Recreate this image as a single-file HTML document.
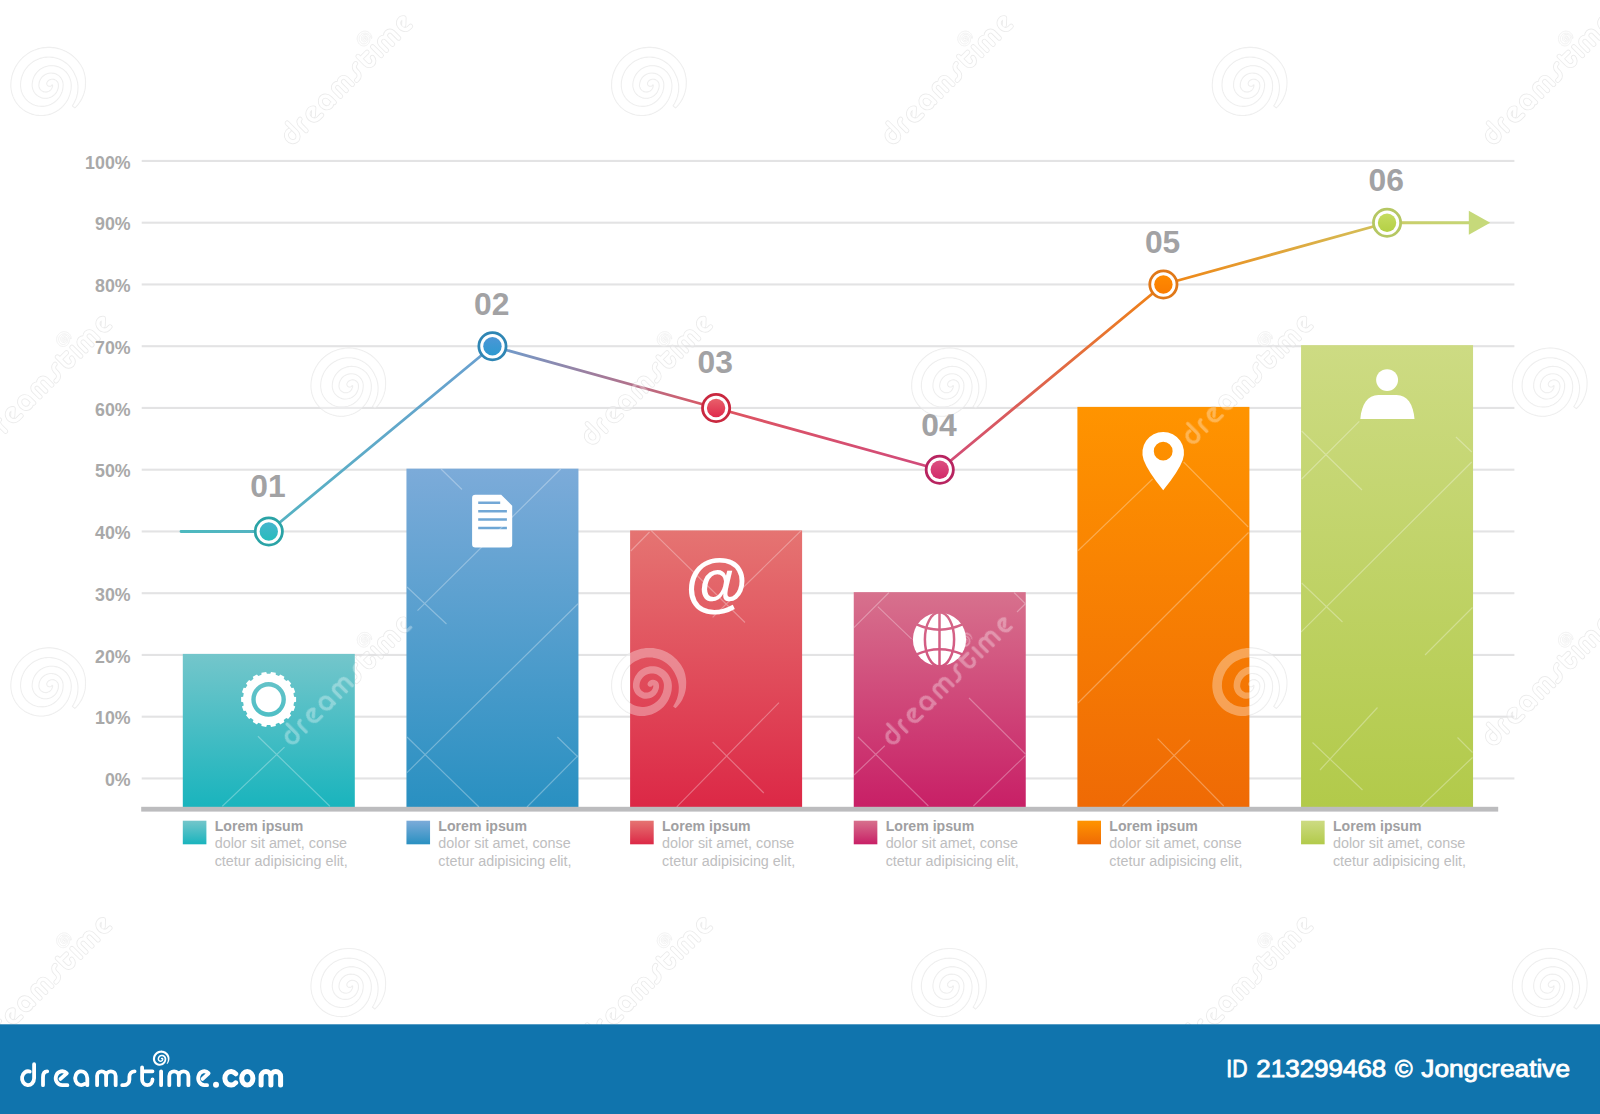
<!DOCTYPE html>
<html><head><meta charset="utf-8"><title>Bar chart infographic</title>
<style>html,body{margin:0;padding:0;background:#fff;}body{width:1600px;height:1114px;overflow:hidden;font-family:"Liberation Sans",sans-serif;}svg{display:block;}text{font-family:"Liberation Sans",sans-serif;}</style></head><body>
<svg width="1600" height="1114" viewBox="0 0 1600 1114">
<defs>
<linearGradient id="b0" x1="0" y1="0" x2="0" y2="1"><stop offset="0" stop-color="#74c6cb"/><stop offset="1" stop-color="#19b4bd"/></linearGradient>
<linearGradient id="b1" x1="0" y1="0" x2="0" y2="1"><stop offset="0" stop-color="#7cabd9"/><stop offset="1" stop-color="#2990c1"/></linearGradient>
<linearGradient id="b2" x1="0" y1="0" x2="0" y2="1"><stop offset="0" stop-color="#e57472"/><stop offset="1" stop-color="#dc2846"/></linearGradient>
<linearGradient id="b3" x1="0" y1="0" x2="0" y2="1"><stop offset="0" stop-color="#d7718d"/><stop offset="1" stop-color="#c81f66"/></linearGradient>
<linearGradient id="b4" x1="0" y1="0" x2="0" y2="1"><stop offset="0" stop-color="#ff9400"/><stop offset="1" stop-color="#ef6a05"/></linearGradient>
<linearGradient id="b5" x1="0" y1="0" x2="0" y2="1"><stop offset="0" stop-color="#cddb83"/><stop offset="1" stop-color="#b2ca4a"/></linearGradient>
<linearGradient id="d0" x1="0" y1="0" x2="0" y2="1"><stop offset="0" stop-color="#45b5cd"/><stop offset="1" stop-color="#27bcbc"/></linearGradient>
<linearGradient id="d1" x1="0" y1="0" x2="0" y2="1"><stop offset="0" stop-color="#4b96d6"/><stop offset="1" stop-color="#2d9ad0"/></linearGradient>
<linearGradient id="d2" x1="0" y1="0" x2="0" y2="1"><stop offset="0" stop-color="#e8606a"/><stop offset="1" stop-color="#e02a4c"/></linearGradient>
<linearGradient id="d3" x1="0" y1="0" x2="0" y2="1"><stop offset="0" stop-color="#dc5080"/><stop offset="1" stop-color="#d22a6a"/></linearGradient>
<linearGradient id="d4" x1="0" y1="0" x2="0" y2="1"><stop offset="0" stop-color="#ff8a00"/><stop offset="1" stop-color="#fa7c00"/></linearGradient>
<linearGradient id="d5" x1="0" y1="0" x2="0" y2="1"><stop offset="0" stop-color="#c5dc60"/><stop offset="1" stop-color="#b4d045"/></linearGradient>
<linearGradient id="lg" gradientUnits="userSpaceOnUse" x1="181" y1="0" x2="1490" y2="0"><stop offset="0.0000" stop-color="#4db9bf"/><stop offset="0.0671" stop-color="#55b3c2"/><stop offset="0.2379" stop-color="#6a9fd0"/><stop offset="0.4088" stop-color="#de5560"/><stop offset="0.5796" stop-color="#d04a7c"/><stop offset="0.7505" stop-color="#f08414"/><stop offset="0.9214" stop-color="#d2c25c"/><stop offset="0.9366" stop-color="#c9cf6c"/><stop offset="1.0000" stop-color="#c4d878"/></linearGradient>
<path id="sp" d="M26.1,22.6 L27.7,21.1 L29.2,19.4 L30.6,17.6 L31.8,15.7 L33.0,13.7 L33.9,11.6 L34.8,9.5 L35.5,7.2 L36.1,5.0 L36.5,2.7 L36.7,0.3 L36.8,-2.1 L36.8,-4.4 L36.6,-6.8 L36.2,-9.2 L35.7,-11.6 L35.0,-13.9 L34.2,-16.2 L33.1,-18.3 L31.8,-20.4 L30.4,-22.4 L28.9,-24.3 L27.3,-26.1 L25.6,-27.8 L23.7,-29.4 L21.8,-30.9 L19.8,-32.2 L17.7,-33.4 L15.5,-34.5 L13.2,-35.4 L10.9,-36.2 L8.6,-36.8 L6.2,-37.3 L3.8,-37.6 L1.4,-37.8 L-1.1,-37.8 L-3.5,-37.6 L-5.9,-37.3 L-8.3,-36.9 L-10.6,-36.3 L-12.9,-35.5 L-15.2,-34.6 L-17.4,-33.6 L-19.5,-32.4 L-21.5,-31.1 L-23.5,-29.6 L-25.4,-28.0 L-27.1,-26.4 L-28.7,-24.6 L-30.3,-22.7 L-31.6,-20.7 L-32.9,-18.6 L-34.0,-16.4 L-35.0,-14.2 L-35.9,-11.9 L-36.6,-9.6 L-37.1,-7.2 L-37.5,-4.8 L-37.7,-2.4 L-37.8,0.0 L-37.7,2.4 L-37.4,4.8 L-37.0,7.1 L-36.3,9.4 L-35.5,11.7 L-34.5,13.9 L-33.3,16.0 L-32.0,18.0 L-30.5,19.8 L-28.9,21.6 L-27.1,23.2 L-25.2,24.7 L-23.2,26.0 L-21.1,27.1 L-18.9,28.1 L-16.6,28.9 L-14.3,29.5 L-12.0,30.0 L-9.6,30.2 L-7.3,30.3 L-4.9,30.2 L-2.5,29.8 L-0.2,29.4 L2.1,28.7 L4.3,27.8 L6.4,26.8 L8.5,25.6 L10.4,24.3 L12.3,22.8 L14.0,21.2 L15.5,19.5 L17.0,17.6 L18.3,15.6 L19.4,13.6 L20.3,11.4 L21.1,9.2 L21.7,7.0 L22.2,4.7 L22.4,2.3 L22.5,-0.0 L22.3,-2.1 L22.0,-4.1 L21.4,-6.1 L20.7,-8.0 L19.7,-9.9 L18.6,-11.6 L17.3,-13.2 L15.8,-14.6 L14.2,-15.9 L12.4,-17.0 L10.6,-17.9 L8.7,-18.6 L6.7,-19.1 L4.7,-19.4 L2.7,-19.5 L0.6,-19.4 L-1.4,-19.0 L-3.3,-18.5 L-5.2,-17.7 L-7.0,-16.8 L-8.7,-15.7 L-10.3,-14.4 L-11.7,-12.9 L-12.9,-11.3 L-14.0,-9.6 L-14.9,-7.8 L-15.6,-5.9 L-16.1,-4.0 L-16.4,-2.0 L-16.5,-0.0 L-16.4,1.7 L-16.0,3.4 L-15.4,5.1 L-14.7,6.6 L-13.7,8.0 L-12.5,9.3 L-11.2,10.4 L-9.8,11.4 L-8.2,12.1 L-6.6,12.7 L-4.9,13.0 L-3.2,13.1 L-1.5,12.9 L0.2,12.6 L1.8,12.0 L3.3,11.3 L4.7,10.3 L6.0,9.2 L7.1,7.9 L8.0,6.5 L8.7,4.9 L9.3,3.3 L9.6,1.7 L9.7,0.0 L9.5,-1.3 L9.1,-2.6 L8.4,-3.7 L7.5,-4.6 L6.4,-5.3 L5.2,-5.8 L3.9,-6.0 L2.6,-5.9 L1.3,-5.5 L0.2,-4.9 L-0.8,-4.0 L-1.4,-3.2 L-1.8,-2.3 L-1.9,-1.2 L-1.5,-0.2 L-0.8,0.6 L0.2,1.1 L1.2,1.1 L2.3,0.8 L3.0,0.0 L3.3,-0.3 L3.4,-0.4 L3.4,-0.4 L3.5,-0.4 L3.6,-0.4 L3.7,-0.4 L3.8,-0.3 L3.8,-0.3 L3.9,-0.2 L3.9,-0.1 L3.9,-0.1 L3.9,-0.0 L3.9,0.9 L3.7,1.8 L3.3,2.7 L2.9,3.5 L2.4,4.3 L1.8,5.0 L1.1,5.6 L0.3,6.1 L-0.5,6.4 L-1.4,6.7 L-2.3,6.9 L-3.2,6.9 L-4.1,6.8 L-5.0,6.7 L-5.8,6.3 L-6.6,5.9 L-7.4,5.4 L-8.0,4.8 L-8.6,4.1 L-9.1,3.4 L-9.4,2.6 L-9.7,1.7 L-9.9,0.9 L-9.9,0.0 L-9.8,-1.3 L-9.6,-2.6 L-9.2,-3.9 L-8.7,-5.1 L-8.1,-6.2 L-7.4,-7.3 L-6.6,-8.3 L-5.6,-9.2 L-4.6,-10.0 L-3.5,-10.7 L-2.4,-11.2 L-1.1,-11.7 L0.1,-12.0 L1.4,-12.2 L2.7,-12.2 L3.9,-12.1 L5.2,-11.9 L6.4,-11.6 L7.6,-11.1 L8.7,-10.5 L9.8,-9.8 L10.7,-9.0 L11.6,-8.1 L12.4,-7.1 L13.0,-6.0 L13.6,-4.9 L14.0,-3.7 L14.3,-2.5 L14.5,-1.2 L14.5,0.0 L14.4,1.7 L14.2,3.4 L13.8,5.1 L13.4,6.7 L12.7,8.3 L12.0,9.8 L11.2,11.3 L10.2,12.7 L9.1,14.0 L8.0,15.2 L6.7,16.3 L5.4,17.3 L3.9,18.3 L2.5,19.1 L0.9,19.7 L-0.7,20.3 L-2.3,20.7 L-3.9,21.0 L-5.6,21.2 L-7.3,21.2 L-8.9,21.1 L-10.6,20.9 L-12.2,20.6 L-13.8,20.1 L-15.3,19.5 L-16.8,18.8 L-18.2,17.9 L-19.6,17.0 L-20.9,15.9 L-22.1,14.8 L-23.2,13.6 L-24.2,12.3 L-25.1,10.9 L-25.9,9.5 L-26.6,8.0 L-27.2,6.5 L-27.6,4.9 L-27.9,3.3 L-28.1,1.6 L-28.2,-0.0 L-28.1,-1.8 L-28.0,-3.6 L-27.7,-5.4 L-27.3,-7.2 L-26.8,-8.9 L-26.1,-10.6 L-25.4,-12.3 L-24.6,-13.9 L-23.6,-15.4 L-22.6,-16.9 L-21.4,-18.3 L-20.2,-19.7 L-18.9,-20.9 L-17.5,-22.1 L-16.1,-23.2 L-14.6,-24.2 L-13.0,-25.0 L-11.3,-25.8 L-9.7,-26.5 L-7.9,-27.1 L-6.2,-27.5 L-4.4,-27.9 L-2.6,-28.1 L-0.8,-28.2 L1.0,-28.2 L2.8,-28.1 L4.6,-27.8 L6.4,-27.5 L8.2,-27.0 L9.9,-26.4 L11.6,-25.7 L13.2,-24.9 L14.8,-24.0 L16.3,-23.0 L17.7,-21.9 L19.1,-20.8 L20.4,-19.5 L21.6,-18.1 L22.7,-16.7 L23.7,-15.2 L24.7,-13.7 L25.5,-12.1 L26.3,-10.4 L27.1,-8.8 L27.8,-7.0 L28.3,-5.3 L28.7,-3.5 L29.1,-1.6 L29.3,0.2 L29.4,2.1 L29.3,4.0 L29.2,6.0 L28.9,7.9 L28.5,9.8 L28.0,11.6 L27.4,13.5 L26.6,15.3 L25.8,17.1 L24.8,18.9 L23.7,20.7Z"/><path id="lt" d="M34.1,1064.2 L34.1,1078.225 A6.05,6.925000000000068 0 1,1 29.7,1071.55 M43,1085.15 L43,1077.2 Q43,1071.5 47.2,1071.3999999999999 M60.5,1078.925 L66.80,1073.33 A6.5,6.925000000000068 0 1,0 62.2,1085.15 L67.4,1085.15 M87.3,1085.15 L87.3,1078.225 A6.05,6.925000000000068 0 1,0 84.5,1084.0749999999998 M97.1,1085.15 L97.1,1075.8 A4.5,4.5 0 0,1 106.1,1075.8 L106.1,1085.15 M106.1,1076.075 A4.775000000000006,4.775000000000006 0 0,1 115.65,1076.075 L115.65,1085.15 M134.6,1071.3 A5.2,5.5 0 0,0 129.4,1076.8 L129.4,1079.65 A5.5,5.5 0 0,1 123.9,1085.15 L122.2,1085.15 M142.1,1067.4 L142.1,1079.5 A5.2,5.65 0 0,0 152.5,1079.5 M142.1,1071.3 L152.5,1071.3 M161.1,1071.3 L161.1,1085.15 M169.3,1085.15 L169.3,1076.05 A4.75,4.75 0 0,1 178.8,1076.05 L178.8,1085.15 M178.8,1076.1 A4.799999999999997,4.799999999999997 0 0,1 188.4,1076.1 L188.4,1085.15 M202.60000000000002,1078.925 L208.61,1073.33 A6.1,6.925000000000068 0 1,0 204.3,1085.15 L207.10000000000002,1085.15" fill="none" stroke-linecap="round" stroke-linejoin="round"/>
<clipPath id="cpb"><rect x="182.80" y="653.90" width="172" height="153.30"/><rect x="406.45" y="468.65" width="172" height="338.55"/><rect x="630.10" y="530.40" width="172" height="276.80"/><rect x="853.75" y="592.15" width="172" height="215.05"/><rect x="1077.40" y="406.90" width="172" height="400.30"/><rect x="1301.05" y="345.15" width="172" height="462.05"/></clipPath>
</defs>
<rect width="1600" height="1114" fill="#ffffff"/>
<g><use href="#sp" transform="translate(48.7,85.2)" fill="#fff" stroke="#ececec" stroke-width="1.1"/><use href="#sp" transform="translate(649.4,85.2)" fill="#fff" stroke="#ececec" stroke-width="1.1"/><use href="#sp" transform="translate(1250.1,85.2)" fill="#fff" stroke="#ececec" stroke-width="1.1"/><use href="#sp" transform="translate(348.8,385.9)" fill="#fff" stroke="#ececec" stroke-width="1.1"/><use href="#sp" transform="translate(949.5,385.9)" fill="#fff" stroke="#ececec" stroke-width="1.1"/><use href="#sp" transform="translate(1550.2,385.9)" fill="#fff" stroke="#ececec" stroke-width="1.1"/><use href="#sp" transform="translate(48.7,685.7)" fill="#fff" stroke="#ececec" stroke-width="1.1"/><use href="#sp" transform="translate(649.4,685.7)" fill="#fff" stroke="#ececec" stroke-width="1.1"/><use href="#sp" transform="translate(1250.1,685.7)" fill="#fff" stroke="#ececec" stroke-width="1.1"/><use href="#sp" transform="translate(348.8,986.3)" fill="#fff" stroke="#ececec" stroke-width="1.1"/><use href="#sp" transform="translate(949.5,986.3)" fill="#fff" stroke="#ececec" stroke-width="1.1"/><use href="#sp" transform="translate(1550.2,986.3)" fill="#fff" stroke="#ececec" stroke-width="1.1"/><g transform="translate(292.4,146.8) rotate(-45) scale(0.90) translate(-19.5,-1087)"><use href="#lt" stroke="#ebebeb" stroke-width="5.6"/><use href="#lt" stroke="#fff" stroke-width="3.6"/><use href="#sp" fill="#fff" stroke="#ebebeb" stroke-width="4" transform="translate(161.3,1059.0) scale(0.222)"/></g><g transform="translate(893,146.8) rotate(-45) scale(0.90) translate(-19.5,-1087)"><use href="#lt" stroke="#ebebeb" stroke-width="5.6"/><use href="#lt" stroke="#fff" stroke-width="3.6"/><use href="#sp" fill="#fff" stroke="#ebebeb" stroke-width="4" transform="translate(161.3,1059.0) scale(0.222)"/></g><g transform="translate(1493.6,146.8) rotate(-45) scale(0.90) translate(-19.5,-1087)"><use href="#lt" stroke="#ebebeb" stroke-width="5.6"/><use href="#lt" stroke="#fff" stroke-width="3.6"/><use href="#sp" fill="#fff" stroke="#ebebeb" stroke-width="4" transform="translate(161.3,1059.0) scale(0.222)"/></g><g transform="translate(-8.2,447.4) rotate(-45) scale(0.90) translate(-19.5,-1087)"><use href="#lt" stroke="#ebebeb" stroke-width="5.6"/><use href="#lt" stroke="#fff" stroke-width="3.6"/><use href="#sp" fill="#fff" stroke="#ebebeb" stroke-width="4" transform="translate(161.3,1059.0) scale(0.222)"/></g><g transform="translate(592.4,447.4) rotate(-45) scale(0.90) translate(-19.5,-1087)"><use href="#lt" stroke="#ebebeb" stroke-width="5.6"/><use href="#lt" stroke="#fff" stroke-width="3.6"/><use href="#sp" fill="#fff" stroke="#ebebeb" stroke-width="4" transform="translate(161.3,1059.0) scale(0.222)"/></g><g transform="translate(1193,447.4) rotate(-45) scale(0.90) translate(-19.5,-1087)"><use href="#lt" stroke="#ebebeb" stroke-width="5.6"/><use href="#lt" stroke="#fff" stroke-width="3.6"/><use href="#sp" fill="#fff" stroke="#ebebeb" stroke-width="4" transform="translate(161.3,1059.0) scale(0.222)"/></g><g transform="translate(292.4,748) rotate(-45) scale(0.90) translate(-19.5,-1087)"><use href="#lt" stroke="#ebebeb" stroke-width="5.6"/><use href="#lt" stroke="#fff" stroke-width="3.6"/><use href="#sp" fill="#fff" stroke="#ebebeb" stroke-width="4" transform="translate(161.3,1059.0) scale(0.222)"/></g><g transform="translate(893,748) rotate(-45) scale(0.90) translate(-19.5,-1087)"><use href="#lt" stroke="#ebebeb" stroke-width="5.6"/><use href="#lt" stroke="#fff" stroke-width="3.6"/><use href="#sp" fill="#fff" stroke="#ebebeb" stroke-width="4" transform="translate(161.3,1059.0) scale(0.222)"/></g><g transform="translate(1493.6,748) rotate(-45) scale(0.90) translate(-19.5,-1087)"><use href="#lt" stroke="#ebebeb" stroke-width="5.6"/><use href="#lt" stroke="#fff" stroke-width="3.6"/><use href="#sp" fill="#fff" stroke="#ebebeb" stroke-width="4" transform="translate(161.3,1059.0) scale(0.222)"/></g><g transform="translate(-8.2,1048.6) rotate(-45) scale(0.90) translate(-19.5,-1087)"><use href="#lt" stroke="#ebebeb" stroke-width="5.6"/><use href="#lt" stroke="#fff" stroke-width="3.6"/><use href="#sp" fill="#fff" stroke="#ebebeb" stroke-width="4" transform="translate(161.3,1059.0) scale(0.222)"/></g><g transform="translate(592.4,1048.6) rotate(-45) scale(0.90) translate(-19.5,-1087)"><use href="#lt" stroke="#ebebeb" stroke-width="5.6"/><use href="#lt" stroke="#fff" stroke-width="3.6"/><use href="#sp" fill="#fff" stroke="#ebebeb" stroke-width="4" transform="translate(161.3,1059.0) scale(0.222)"/></g><g transform="translate(1193,1048.6) rotate(-45) scale(0.90) translate(-19.5,-1087)"><use href="#lt" stroke="#ebebeb" stroke-width="5.6"/><use href="#lt" stroke="#fff" stroke-width="3.6"/><use href="#sp" fill="#fff" stroke="#ebebeb" stroke-width="4" transform="translate(161.3,1059.0) scale(0.222)"/></g></g>
<rect x="141.7" y="777.40" width="1372.7" height="2.1" fill="#e3e3e4"/>
<text x="130.6" y="786.00" font-size="17.8" font-weight="bold" fill="#a9a9a9" text-anchor="end">0%</text>
<rect x="141.7" y="715.65" width="1372.7" height="2.1" fill="#e3e3e4"/>
<text x="130.6" y="724.25" font-size="17.8" font-weight="bold" fill="#a9a9a9" text-anchor="end">10%</text>
<rect x="141.7" y="653.90" width="1372.7" height="2.1" fill="#e3e3e4"/>
<text x="130.6" y="662.50" font-size="17.8" font-weight="bold" fill="#a9a9a9" text-anchor="end">20%</text>
<rect x="141.7" y="592.15" width="1372.7" height="2.1" fill="#e3e3e4"/>
<text x="130.6" y="600.75" font-size="17.8" font-weight="bold" fill="#a9a9a9" text-anchor="end">30%</text>
<rect x="141.7" y="530.40" width="1372.7" height="2.1" fill="#e3e3e4"/>
<text x="130.6" y="539.00" font-size="17.8" font-weight="bold" fill="#a9a9a9" text-anchor="end">40%</text>
<rect x="141.7" y="468.65" width="1372.7" height="2.1" fill="#e3e3e4"/>
<text x="130.6" y="477.25" font-size="17.8" font-weight="bold" fill="#a9a9a9" text-anchor="end">50%</text>
<rect x="141.7" y="406.90" width="1372.7" height="2.1" fill="#e3e3e4"/>
<text x="130.6" y="415.50" font-size="17.8" font-weight="bold" fill="#a9a9a9" text-anchor="end">60%</text>
<rect x="141.7" y="345.15" width="1372.7" height="2.1" fill="#e3e3e4"/>
<text x="130.6" y="353.75" font-size="17.8" font-weight="bold" fill="#a9a9a9" text-anchor="end">70%</text>
<rect x="141.7" y="283.40" width="1372.7" height="2.1" fill="#e3e3e4"/>
<text x="130.6" y="292.00" font-size="17.8" font-weight="bold" fill="#a9a9a9" text-anchor="end">80%</text>
<rect x="141.7" y="221.65" width="1372.7" height="2.1" fill="#e3e3e4"/>
<text x="130.6" y="230.25" font-size="17.8" font-weight="bold" fill="#a9a9a9" text-anchor="end">90%</text>
<rect x="141.7" y="159.90" width="1372.7" height="2.1" fill="#e3e3e4"/>
<text x="130.6" y="168.50" font-size="17.8" font-weight="bold" fill="#a9a9a9" text-anchor="end">100%</text>
<rect x="182.80" y="653.90" width="172" height="153.30" fill="url(#b0)"/>
<rect x="406.45" y="468.65" width="172" height="338.55" fill="url(#b1)"/>
<rect x="630.10" y="530.40" width="172" height="276.80" fill="url(#b2)"/>
<rect x="853.75" y="592.15" width="172" height="215.05" fill="url(#b3)"/>
<rect x="1077.40" y="406.90" width="172" height="400.30" fill="url(#b4)"/>
<rect x="1301.05" y="345.15" width="172" height="462.05" fill="url(#b5)"/>
<rect x="141.2" y="806.8" width="1357" height="4.8" fill="#bcbcbe"/>
<path fill="#fff" fill-rule="evenodd" d="M271.01,671.91 L275.74,672.74 L275.74,674.82 L278.93,675.98 L280.26,674.39 L284.43,676.79 L283.72,678.74 L286.32,680.92 L288.12,679.88 L291.21,683.57 L289.87,685.16 L291.57,688.10 L293.61,687.74 L295.26,692.26 L293.46,693.29 L294.05,696.64 L296.09,696.99 L296.09,701.81 L294.05,702.16 L293.46,705.51 L295.26,706.54 L293.61,711.06 L291.57,710.70 L289.87,713.64 L291.21,715.23 L288.12,718.92 L286.32,717.88 L283.72,720.06 L284.43,722.01 L280.26,724.41 L278.93,722.82 L275.74,723.98 L275.74,726.06 L271.01,726.89 L270.30,724.94 L266.90,724.94 L266.19,726.89 L261.46,726.06 L261.46,723.98 L258.27,722.82 L256.94,724.41 L252.77,722.01 L253.48,720.06 L250.88,717.88 L249.08,718.92 L245.99,715.23 L247.33,713.64 L245.63,710.70 L243.59,711.06 L241.94,706.54 L243.74,705.51 L243.15,702.16 L241.11,701.81 L241.11,696.99 L243.15,696.64 L243.74,693.29 L241.94,692.26 L243.59,687.74 L245.63,688.10 L247.33,685.16 L245.99,683.57 L249.08,679.88 L250.88,680.92 L253.48,678.74 L252.77,676.79 L256.94,674.39 L258.27,675.98 L261.46,674.82 L261.46,672.74 L266.19,671.91 L266.90,673.86 L270.30,673.86Z M251.30,699.40a17.3,17.3 0 1,0 34.6,0a17.3,17.3 0 1,0 -34.6,0Z M255.70,699.40a12.9,12.9 0 1,0 25.8,0a12.9,12.9 0 1,0 -25.8,0Z"/>
<path fill="#fff" fill-rule="evenodd" d="M475.3,494.7 L501.20000000000005,494.7 L512.2,505.7 L512.2,544.3 Q512.2,547.5 509.00000000000006,547.5 L475.3,547.5 Q472.1,547.5 472.1,544.3 L472.1,497.9 Q472.1,494.7 475.3,494.7Z M478.2,501.55 L500.2,501.55 L500.2,504.05 L478.2,504.05Z M478.2,509.95 L506.9,509.95 L506.9,512.45 L478.2,512.45Z M478.2,518.35 L506.9,518.35 L506.9,520.85 L478.2,520.85Z M478.2,526.85 L506.9,526.85 L506.9,529.35 L478.2,529.35Z"/>
<text id="at" x="716.7" y="603.9" font-size="64.5" font-weight="bold" fill="#fff" text-anchor="middle">@</text>
<mask id="gm"><rect x="900" y="600" width="80" height="80" fill="#fff"/><g fill="none" stroke="#000" stroke-width="2.5"><line x1="939.5" y1="611.8" x2="939.5" y2="667.0"/><ellipse cx="939.5" cy="639.4" rx="14.6" ry="27.1"/><path d="M916.0,624.1999999999999 Q939.5,635.1 963.0,624.1999999999999"/><path d="M916.0,654.6 Q939.5,643.6999999999999 963.0,654.6"/></g></mask><circle cx="939.5" cy="639.4" r="26.6" fill="#fff" mask="url(#gm)"/>
<path fill="#fff" fill-rule="evenodd" d="M1163.2,490.2 Q1178.64,471.19 1182.75,459.91 A20.8,20.8 0 1,0 1143.65,459.91 Q1147.76,471.19 1163.2,490.2Z M1153.8,451.2a9.4,9.4 0 1,0 18.8,0a9.4,9.4 0 1,0 -18.8,0Z"/>
<circle cx="1387.1" cy="380.1" r="10.95" fill="#fff"/><path fill="#fff" d="M1360.3,418.9 C1361.5,404.5 1367.5,394.9 1378.5,394.9 L1396.5,394.9 C1407.5,394.9 1413.3,404.5 1414.5,418.9Z"/>
<polyline fill="none" stroke="url(#lg)" stroke-width="2.8" stroke-linejoin="round" stroke-linecap="round" points="181.00,531.50 268.80,531.50 492.45,346.25 716.10,408.00 939.75,469.75 1163.40,284.50 1387.05,222.75 1470.00,222.75"/>
<polygon points="1468.8,210.65 1468.8,234.85 1490.2,222.75" fill="#c6d97a"/>
<circle cx="268.80" cy="531.50" r="13.6" fill="#ffffff" stroke="#2aa3a6" stroke-width="2.8"/>
<circle cx="268.80" cy="531.50" r="9.2" fill="url(#d0)"/>
<text x="268.00" y="497.2" font-size="31.8" font-weight="bold" fill="#a2a2a4" text-anchor="middle">01</text>
<circle cx="492.45" cy="346.25" r="13.6" fill="#ffffff" stroke="#2f86b4" stroke-width="2.8"/>
<circle cx="492.45" cy="346.25" r="9.2" fill="url(#d1)"/>
<text x="491.65" y="314.7" font-size="31.8" font-weight="bold" fill="#a2a2a4" text-anchor="middle">02</text>
<circle cx="716.10" cy="408.00" r="13.6" fill="#ffffff" stroke="#c9283f" stroke-width="2.8"/>
<circle cx="716.10" cy="408.00" r="9.2" fill="url(#d2)"/>
<text x="715.30" y="373.2" font-size="31.8" font-weight="bold" fill="#a2a2a4" text-anchor="middle">03</text>
<circle cx="939.75" cy="469.75" r="13.6" fill="#ffffff" stroke="#b82460" stroke-width="2.8"/>
<circle cx="939.75" cy="469.75" r="9.2" fill="url(#d3)"/>
<text x="938.95" y="435.5" font-size="31.8" font-weight="bold" fill="#a2a2a4" text-anchor="middle">04</text>
<circle cx="1163.40" cy="284.50" r="13.6" fill="#ffffff" stroke="#e07818" stroke-width="2.8"/>
<circle cx="1163.40" cy="284.50" r="9.2" fill="url(#d4)"/>
<text x="1162.60" y="253.2" font-size="31.8" font-weight="bold" fill="#a2a2a4" text-anchor="middle">05</text>
<circle cx="1387.05" cy="222.75" r="13.6" fill="#ffffff" stroke="#b5c763" stroke-width="2.8"/>
<circle cx="1387.05" cy="222.75" r="9.2" fill="url(#d5)"/>
<text x="1386.25" y="190.7" font-size="31.8" font-weight="bold" fill="#a2a2a4" text-anchor="middle">06</text>
<rect x="182.80" y="820.7" width="23.6" height="23.6" fill="url(#b0)"/>
<text x="214.70" y="831.2" font-size="13.8" font-weight="bold" fill="#a0a0a2" textLength="88.6" lengthAdjust="spacingAndGlyphs">Lorem ipsum</text>
<text x="214.70" y="848.2" font-size="14.35" fill="#bebec0">dolor sit amet, conse</text>
<text x="214.70" y="865.6" font-size="14.35" fill="#bebec0">ctetur adipisicing elit,</text>
<rect x="406.45" y="820.7" width="23.6" height="23.6" fill="url(#b1)"/>
<text x="438.35" y="831.2" font-size="13.8" font-weight="bold" fill="#a0a0a2" textLength="88.6" lengthAdjust="spacingAndGlyphs">Lorem ipsum</text>
<text x="438.35" y="848.2" font-size="14.35" fill="#bebec0">dolor sit amet, conse</text>
<text x="438.35" y="865.6" font-size="14.35" fill="#bebec0">ctetur adipisicing elit,</text>
<rect x="630.10" y="820.7" width="23.6" height="23.6" fill="url(#b2)"/>
<text x="662.00" y="831.2" font-size="13.8" font-weight="bold" fill="#a0a0a2" textLength="88.6" lengthAdjust="spacingAndGlyphs">Lorem ipsum</text>
<text x="662.00" y="848.2" font-size="14.35" fill="#bebec0">dolor sit amet, conse</text>
<text x="662.00" y="865.6" font-size="14.35" fill="#bebec0">ctetur adipisicing elit,</text>
<rect x="853.75" y="820.7" width="23.6" height="23.6" fill="url(#b3)"/>
<text x="885.65" y="831.2" font-size="13.8" font-weight="bold" fill="#a0a0a2" textLength="88.6" lengthAdjust="spacingAndGlyphs">Lorem ipsum</text>
<text x="885.65" y="848.2" font-size="14.35" fill="#bebec0">dolor sit amet, conse</text>
<text x="885.65" y="865.6" font-size="14.35" fill="#bebec0">ctetur adipisicing elit,</text>
<rect x="1077.40" y="820.7" width="23.6" height="23.6" fill="url(#b4)"/>
<text x="1109.30" y="831.2" font-size="13.8" font-weight="bold" fill="#a0a0a2" textLength="88.6" lengthAdjust="spacingAndGlyphs">Lorem ipsum</text>
<text x="1109.30" y="848.2" font-size="14.35" fill="#bebec0">dolor sit amet, conse</text>
<text x="1109.30" y="865.6" font-size="14.35" fill="#bebec0">ctetur adipisicing elit,</text>
<rect x="1301.05" y="820.7" width="23.6" height="23.6" fill="url(#b5)"/>
<text x="1332.95" y="831.2" font-size="13.8" font-weight="bold" fill="#a0a0a2" textLength="88.6" lengthAdjust="spacingAndGlyphs">Lorem ipsum</text>
<text x="1332.95" y="848.2" font-size="14.35" fill="#bebec0">dolor sit amet, conse</text>
<text x="1332.95" y="865.6" font-size="14.35" fill="#bebec0">ctetur adipisicing elit,</text>
<path d="M222.3,806.3 L284.5,747.1 M257.9,736.2 L329.9,806.3 M417.5,610.6 L560.8,469 M407,587 L446.5,624 M441,469 L462,489.5 M407,772.6 L578,603.8 M407,737 L479,807 M527,807 L578,755.6 M557.4,737 L578,757 M712.6,617.4 L801.4,530.4 M630.8,551 L649.5,532 M651,530.4 L745,622.5 M676.8,806.8 L779,702.7 M712.6,742 L763.8,793 M853.9,627.6 L889,592.5 M877.8,606.6 L911.5,638.9 M1014,592.5 L1025.4,603.7 M1017,612 L1025.4,603.7 M969,698 L1025.4,754 M973.4,806 L1025.4,755.6 M854,775 L884.8,745.8 M858,737 L928.4,806 M1078,703 L1248.5,532.5 M1122.5,806 L1190,740 M1157.6,738.7 L1223.7,806 M1078,550.8 L1152.6,479 M1183.6,462 L1248.2,527 M1301.7,479 L1359.3,421.4 M1301.7,431 L1362,490 M1301,632 L1471.8,462 M1456,437 L1471.8,452 M1301.7,583 L1342.5,622 M1425,655 L1472.5,607.5 M1312.5,742.5 L1362.5,790 M1320,770 L1377.5,707.5 M1420.3,807.2 L1472.5,757.5 M1457.5,737.5 L1472.5,752.5" clip-path="url(#cpb)" fill="none" stroke="#fff" stroke-opacity="0.3" stroke-width="1.2"/>
<clipPath id="cpw"><rect x="0" y="0" width="1600" height="1024"/></clipPath><g clip-path="url(#cpw)" opacity="0.33"><use href="#sp" transform="translate(48.7,85.2)" fill="#fff"/><use href="#sp" transform="translate(649.4,85.2)" fill="#fff"/><use href="#sp" transform="translate(1250.1,85.2)" fill="#fff"/><use href="#sp" transform="translate(348.8,385.9)" fill="#fff"/><use href="#sp" transform="translate(949.5,385.9)" fill="#fff"/><use href="#sp" transform="translate(1550.2,385.9)" fill="#fff"/><use href="#sp" transform="translate(48.7,685.7)" fill="#fff"/><use href="#sp" transform="translate(649.4,685.7)" fill="#fff"/><use href="#sp" transform="translate(1250.1,685.7)" fill="#fff"/><use href="#sp" transform="translate(348.8,986.3)" fill="#fff"/><use href="#sp" transform="translate(949.5,986.3)" fill="#fff"/><use href="#sp" transform="translate(1550.2,986.3)" fill="#fff"/><g transform="translate(292.4,146.8) rotate(-45) scale(0.90) translate(-19.5,-1087)"><use href="#lt" stroke="#fff" stroke-width="3.8"/><use href="#sp" fill="#fff" transform="translate(161.3,1059.0) scale(0.222)"/></g><g transform="translate(893,146.8) rotate(-45) scale(0.90) translate(-19.5,-1087)"><use href="#lt" stroke="#fff" stroke-width="3.8"/><use href="#sp" fill="#fff" transform="translate(161.3,1059.0) scale(0.222)"/></g><g transform="translate(1493.6,146.8) rotate(-45) scale(0.90) translate(-19.5,-1087)"><use href="#lt" stroke="#fff" stroke-width="3.8"/><use href="#sp" fill="#fff" transform="translate(161.3,1059.0) scale(0.222)"/></g><g transform="translate(-8.2,447.4) rotate(-45) scale(0.90) translate(-19.5,-1087)"><use href="#lt" stroke="#fff" stroke-width="3.8"/><use href="#sp" fill="#fff" transform="translate(161.3,1059.0) scale(0.222)"/></g><g transform="translate(592.4,447.4) rotate(-45) scale(0.90) translate(-19.5,-1087)"><use href="#lt" stroke="#fff" stroke-width="3.8"/><use href="#sp" fill="#fff" transform="translate(161.3,1059.0) scale(0.222)"/></g><g transform="translate(1193,447.4) rotate(-45) scale(0.90) translate(-19.5,-1087)"><use href="#lt" stroke="#fff" stroke-width="3.8"/><use href="#sp" fill="#fff" transform="translate(161.3,1059.0) scale(0.222)"/></g><g transform="translate(292.4,748) rotate(-45) scale(0.90) translate(-19.5,-1087)"><use href="#lt" stroke="#fff" stroke-width="3.8"/><use href="#sp" fill="#fff" transform="translate(161.3,1059.0) scale(0.222)"/></g><g transform="translate(893,748) rotate(-45) scale(0.90) translate(-19.5,-1087)"><use href="#lt" stroke="#fff" stroke-width="3.8"/><use href="#sp" fill="#fff" transform="translate(161.3,1059.0) scale(0.222)"/></g><g transform="translate(1493.6,748) rotate(-45) scale(0.90) translate(-19.5,-1087)"><use href="#lt" stroke="#fff" stroke-width="3.8"/><use href="#sp" fill="#fff" transform="translate(161.3,1059.0) scale(0.222)"/></g><g transform="translate(-8.2,1048.6) rotate(-45) scale(0.90) translate(-19.5,-1087)"><use href="#lt" stroke="#fff" stroke-width="3.8"/><use href="#sp" fill="#fff" transform="translate(161.3,1059.0) scale(0.222)"/></g><g transform="translate(592.4,1048.6) rotate(-45) scale(0.90) translate(-19.5,-1087)"><use href="#lt" stroke="#fff" stroke-width="3.8"/><use href="#sp" fill="#fff" transform="translate(161.3,1059.0) scale(0.222)"/></g><g transform="translate(1193,1048.6) rotate(-45) scale(0.90) translate(-19.5,-1087)"><use href="#lt" stroke="#fff" stroke-width="3.8"/><use href="#sp" fill="#fff" transform="translate(161.3,1059.0) scale(0.222)"/></g></g>
<rect x="0" y="1024.3" width="1600" height="90" fill="#1074ad"/>
<use href="#lt" stroke="#fff" stroke-width="3.8"/><use href="#sp" fill="#fff" transform="translate(161.3,1059.0) scale(0.222)"/><circle cx="216" cy="1084.7" r="3" fill="#fff"/><path d="M235.7,1073.8 A6.2,6.7999999999999545 0 1,0 235.7,1082.8 M241.7,1078.3 a5.6,6.7999999999999545 0 1,0 11.2,0 a5.6,6.7999999999999545 0 1,0 -11.2,0Z M261.1,1085.1 L261.1,1076.4 A4.899999999999977,4.899999999999977 0 0,1 270.9,1076.4 L270.9,1085.1 M270.9,1076.35 A4.850000000000023,4.850000000000023 0 0,1 280.6,1076.35 L280.6,1085.1" fill="none" stroke="#fff" stroke-width="5" stroke-linecap="round" stroke-linejoin="round"/>
<text x="1226.3" y="1077.2" font-size="24.4" fill="#ffffff" stroke="#ffffff" stroke-width="0.85" stroke-linejoin="round" textLength="21.2" lengthAdjust="spacingAndGlyphs">ID</text>
<text x="1256.3" y="1077.2" font-size="24.4" fill="#ffffff" stroke="#ffffff" stroke-width="0.85" stroke-linejoin="round" textLength="130" lengthAdjust="spacingAndGlyphs">213299468</text>
<text x="1395" y="1077.2" font-size="24.4" fill="#ffffff" stroke="#ffffff" stroke-width="0.85" stroke-linejoin="round" textLength="17.6" lengthAdjust="spacingAndGlyphs">©</text>
<text x="1421.3" y="1077.2" font-size="24.4" fill="#ffffff" stroke="#ffffff" stroke-width="0.85" stroke-linejoin="round" textLength="148.7" lengthAdjust="spacingAndGlyphs">Jongcreative</text>
</svg></body></html>
